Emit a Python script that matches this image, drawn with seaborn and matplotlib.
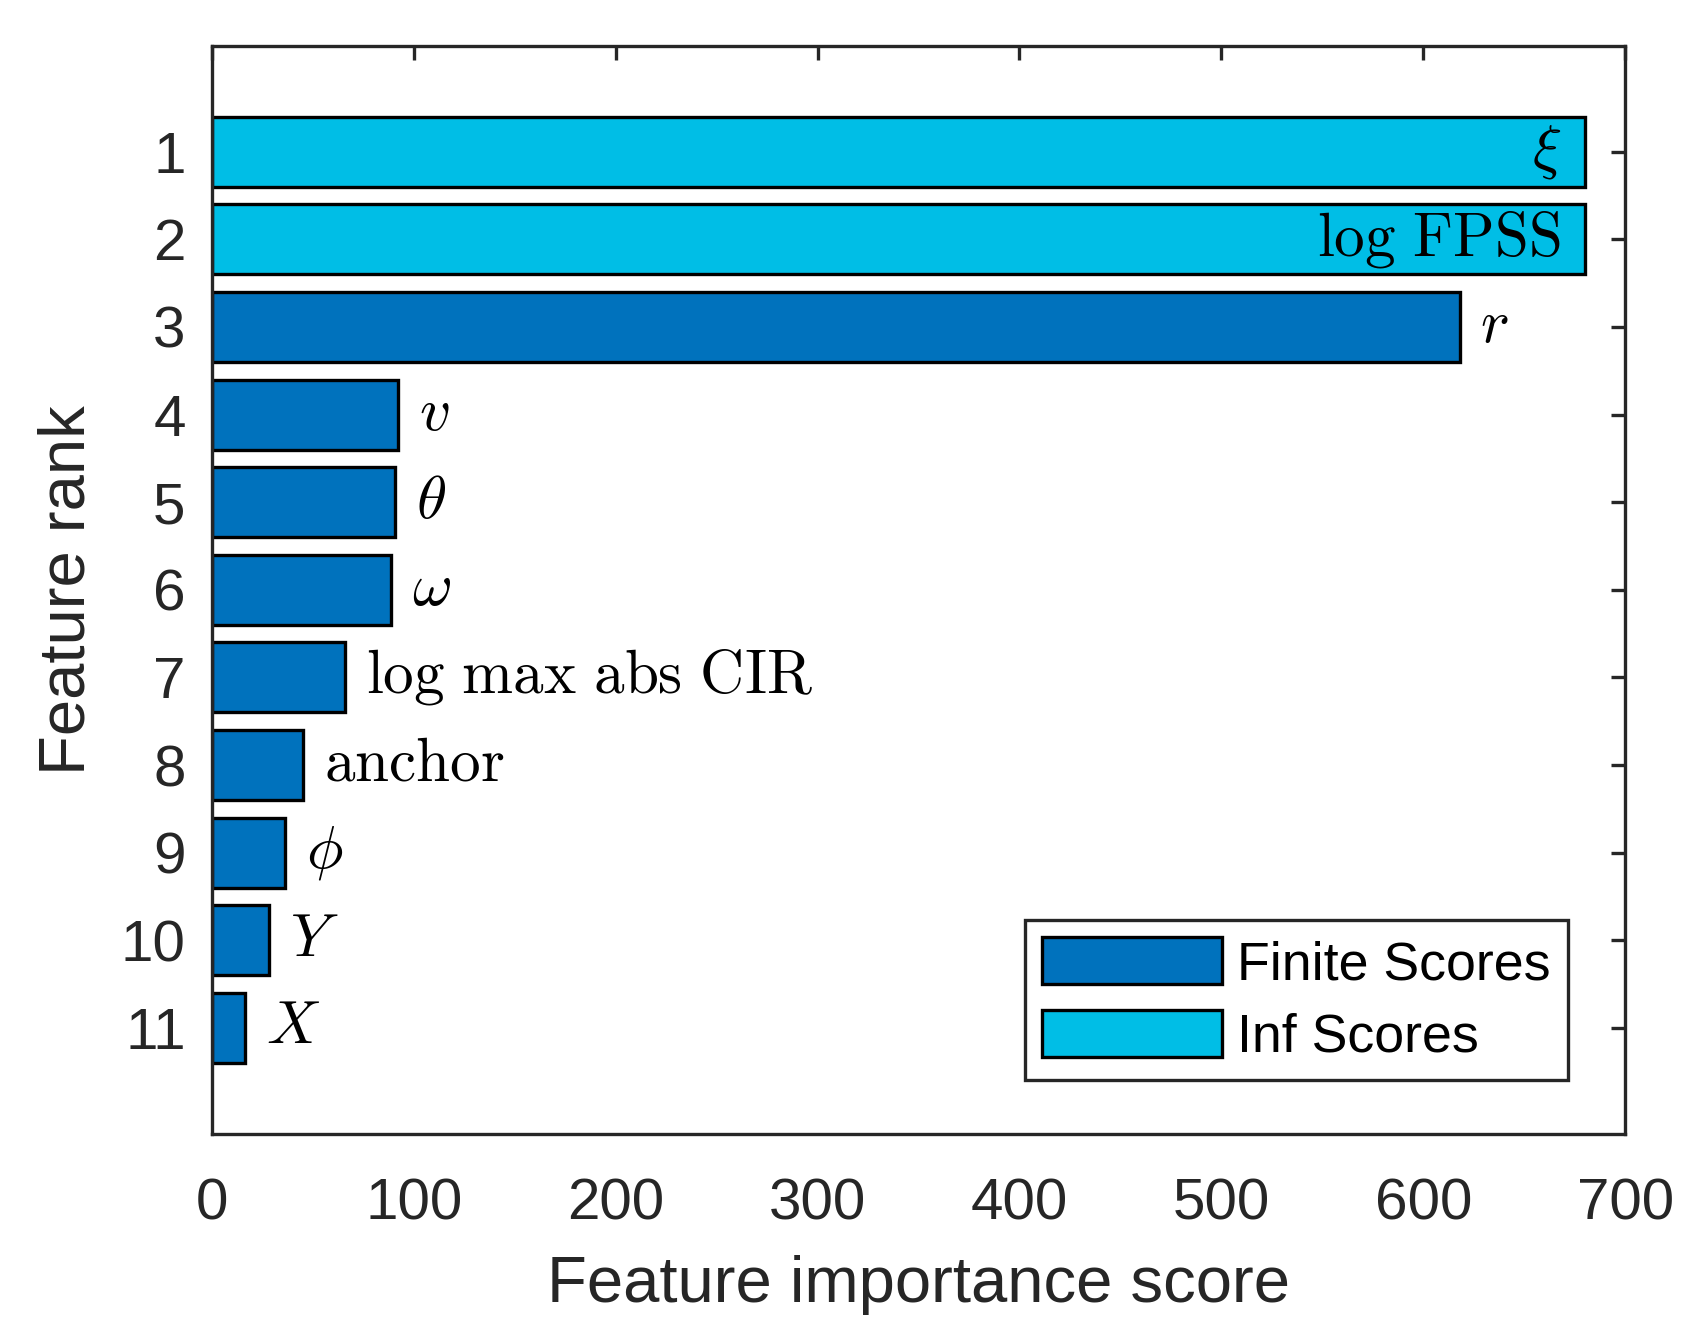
import pandas as pd
import seaborn as sns
import matplotlib.pyplot as plt

# data
ranks = [1, 2, 3, 4, 5, 6, 7, 8, 9, 10, 11]
scores = [680, 680, 618, 92, 90.5, 88.5, 65.8, 45.2, 36.1, 28.4, 16.3]
kinds = ["Inf Scores", "Inf Scores"] + ["Finite Scores"] * 9
feature_names = [r"$\xi$", r"$\mathrm{log\ FPSS}$", r"$r$", r"$v$", r"$\theta$",
                 r"$\omega$", r"$\mathrm{log\ max\ abs\ CIR}$", r"$\mathrm{anchor}$",
                 r"$\phi$", r"$Y$", r"$X$"]
hue_order = ["Finite Scores", "Inf Scores"]
palette = {"Finite Scores": "#0072BD", "Inf Scores": "#00BEE6"}

df = pd.DataFrame({"rank": ranks, "score": scores, "kind": kinds})

sns.set_style("white")
plt.rcParams["font.family"] = ["Liberation Sans", "DejaVu Sans"]
plt.rcParams["mathtext.fontset"] = "cm"

dark = "#262626"
fig = plt.figure(figsize=(16.99, 13.35), dpi=100)
ax = fig.add_axes([0.1248, 0.1506, 0.8317, 0.8152])

sns.barplot(data=df, x="score", y="rank", hue="kind", hue_order=hue_order,
            palette=palette, orient="h", native_scale=True, dodge=False,
            width=0.8, edgecolor="black", linewidth=2.4, saturation=1, ax=ax)

ax.set_xlim(0, 700)
ax.set_ylim(12.21, -0.21)
ax.set_xticks(range(0, 701, 100))
ax.set_yticks(ranks)
ax.set_yticklabels([str(r) for r in ranks])

# labels next to / inside the bars
for i, (s, name) in enumerate(zip(scores, feature_names)):
    if kinds[i] == "Inf Scores":
        ax.annotate(name, (s, ranks[i]), xytext=(-17, 0), textcoords="offset points",
                    ha="right", va="center", fontsize=44, color="black")
    else:
        ax.annotate(name, (s, ranks[i]), xytext=(15, 0), textcoords="offset points",
                    ha="left", va="center", fontsize=44, color="black")

for sp in ax.spines.values():
    sp.set_visible(True)
    sp.set_color(dark)
    sp.set_linewidth(2.4)

ax.tick_params(axis="both", direction="in", length=10, width=2.4, color=dark,
               labelcolor=dark, labelsize=42, top=True, right=True)
ax.tick_params(axis="y", pad=19)
ax.tick_params(axis="x", pad=31)

ax.set_xlabel("Feature importance score", fontsize=47, color=dark, labelpad=17)
ax.set_ylabel("Feature rank", fontsize=47, color=dark, labelpad=17)

leg = ax.legend(loc="lower left", bbox_to_anchor=(0.575, 0.0495), borderaxespad=0,
                prop={"size": 38.7}, frameon=True, fancybox=False,
                framealpha=1, edgecolor=dark, handlelength=3.35, handleheight=0.97,
                handletextpad=0.28, borderpad=0.32, labelspacing=0.37)
leg.get_frame().set_linewidth(2.4)
for t in leg.get_texts():
    t.set_color("black")
for h in leg.legend_handles:
    h.set_edgecolor("black")
    h.set_linewidth(2.4)

fig.savefig("out.png", dpi=100)
